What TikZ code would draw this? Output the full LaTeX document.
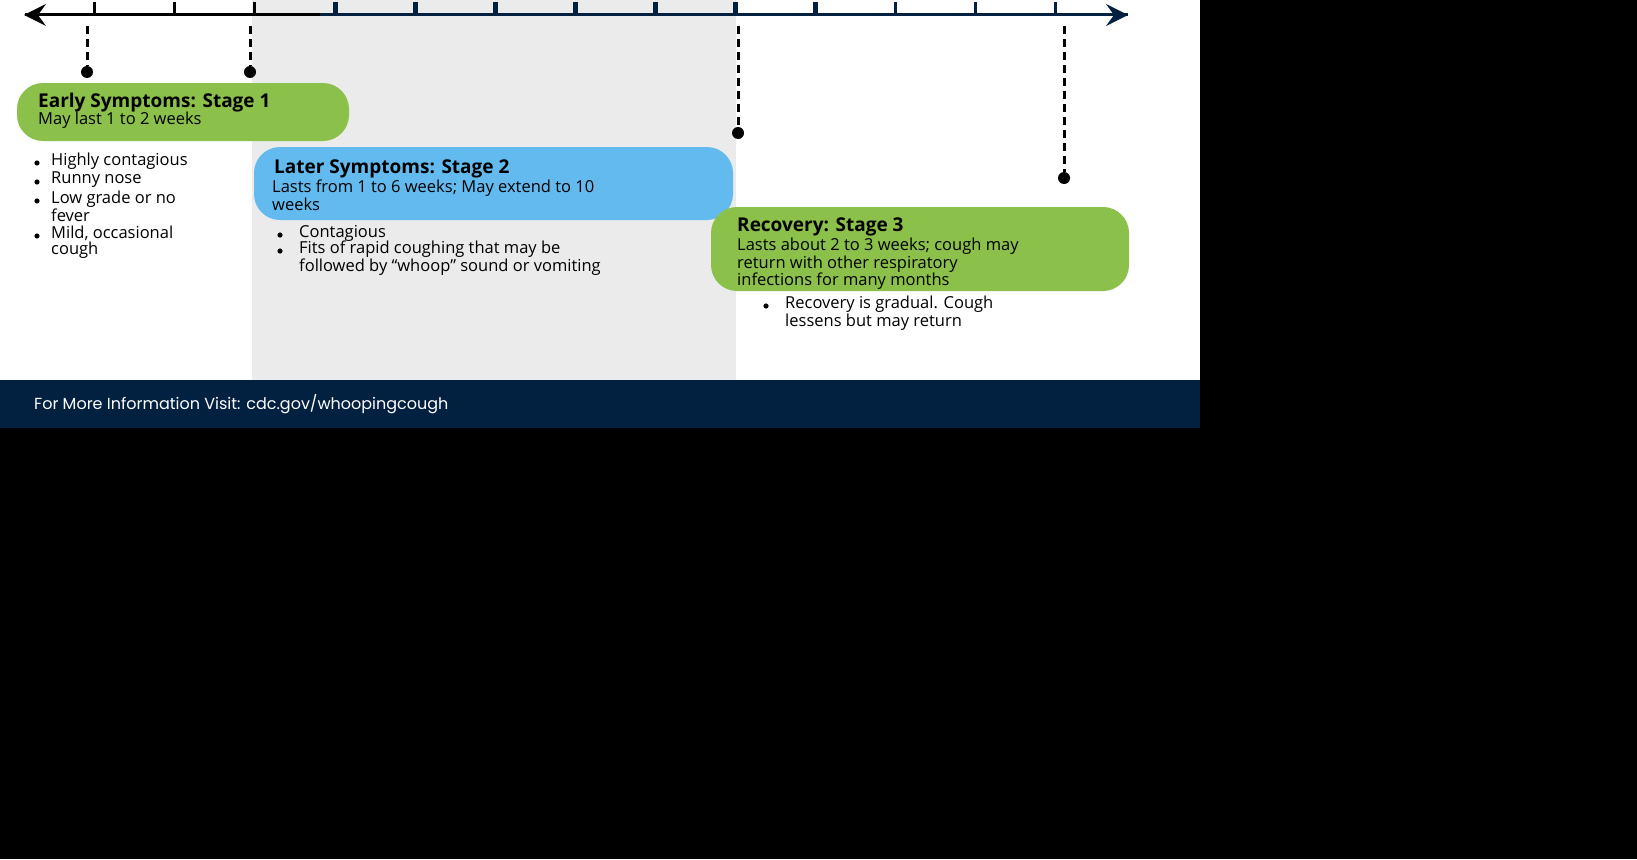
\documentclass[tikz,border=0pt]{standalone}
\usepackage{fontspec}
\setmainfont{Open Sans}
\newfontfamily\foot{Poppins}
\definecolor{navy}{RGB}{2,32,64}
\definecolor{grn}{RGB}{139,192,74}
\definecolor{blu}{RGB}{99,186,238}
\definecolor{gry}{RGB}{235,235,235}
\begin{document}
\begin{tikzpicture}[x=1pt,y=-1pt,
  box/.style={rounded corners=26pt,inner sep=0pt},
  ttl/.style={anchor=west,font=\fontsize{19}{19}\selectfont\bfseries,text=black,inner sep=0pt},
  sub/.style={anchor=north west,font=\fontsize{16.5}{14.5}\selectfont,inner sep=0pt,align=left},
  item/.style={anchor=north west,font=\fontsize{16.5}{15.5}\selectfont,inner sep=0pt,align=left},
  dashln/.style={line width=3pt,dash pattern=on 8pt off 5pt},
  dot/.style={circle,fill=black,inner sep=0pt,minimum size=12pt}]
\useasboundingbox (0,0) rectangle (1637,859);
\fill[black] (0,0) rectangle (1637,859);
\fill[white] (0,0) rectangle (1200,380);
\fill[gry] (252,0) rectangle (736,380);
\fill[navy] (0,380) rectangle (1200,428);
\node[anchor=west,text=white,font=\foot\fontsize{16}{16}\selectfont,inner sep=0pt] (ft) at (34,404) {For More Information Visit: cdc.gov/whoopingcough};
% timeline
\coordinate (tl) at (25,15); \coordinate (tm) at (320,15); \coordinate (tr) at (1128,15);
\draw[line width=3pt] (tl) -- (tm);
\draw[line width=3pt,navy] (tm) -- (tr);
\fill (24,15) -- (46,4) -- (38,15) -- (46,26) -- cycle;
\fill[navy] (1128,15) -- (1106,4) -- (1114,15) -- (1106,26) -- cycle;
\foreach \x in {94,174,254}{\draw[line width=3pt] (\x,2) -- (\x,16);}
\foreach \x in {335,415,495,575,655,735,815}{\draw[line width=5pt,navy] (\x,2) -- (\x,16);}
\foreach \x in {895,975,1055}{\draw[line width=3pt,navy] (\x,2) -- (\x,16);}
% dashed markers
\node[dot] (d1) at (87,72) {}; \coordinate (t1) at (87,26);
\node[dot] (d2) at (250,72) {}; \coordinate (t2) at (250,26);
\node[dot] (d3) at (738,133) {}; \coordinate (t3) at (738,26);
\node[dot] (d4) at (1064,178) {}; \coordinate (t4) at (1064,26);
\foreach \i in {1,2,3,4}{\draw[dashln] (t\i) -- (d\i);}
% boxes
\fill[box,grn] (17,83) rectangle (349,141);
\node[ttl] (s1) at (38,103) {Early Symptoms: Stage 1};
\node[sub] (s1b) at (38,112) {May last 1 to 2 weeks};
\fill[box,blu] (254,147) rectangle (733,220);
\node[ttl] (s2) at (274,169) {Later Symptoms: Stage 2};
\node[sub] (s2b) at (272,180) {Lasts from 1 to 6 weeks; May extend to 10\\weeks};
\fill[box,grn] (711,207) rectangle (1129,291);
\node[ttl] (s3) at (737,227) {Recovery: Stage 3};
\node[sub] (s3b) at (737,238) {Lasts about 2 to 3 weeks; cough may\\return with other respiratory\\infections for many months};
% bullets
\foreach \y/\t [count=\n] in {153/Highly contagious,172/Runny nose,191/{Low grade or no\\fever},226/{Mild, occasional\\cough}}{
  \node[item] (a\n) at (51,\y) {\t};
  \fill (37,\y+10) circle (2.6pt);}
\foreach \y/\t [count=\n] in {225/Contagious,241/{Fits of rapid coughing that may be\\followed by “whoop” sound or vomiting}}{
  \node[item] (b\n) at (299,\y) {\t};
  \fill (280,\y+10) circle (2.6pt);}
\node[item] (c1) at (785,296) {Recovery is gradual. Cough\\lessens but may return};
\fill (766,306) circle (2.6pt);
\end{tikzpicture}
\end{document}
